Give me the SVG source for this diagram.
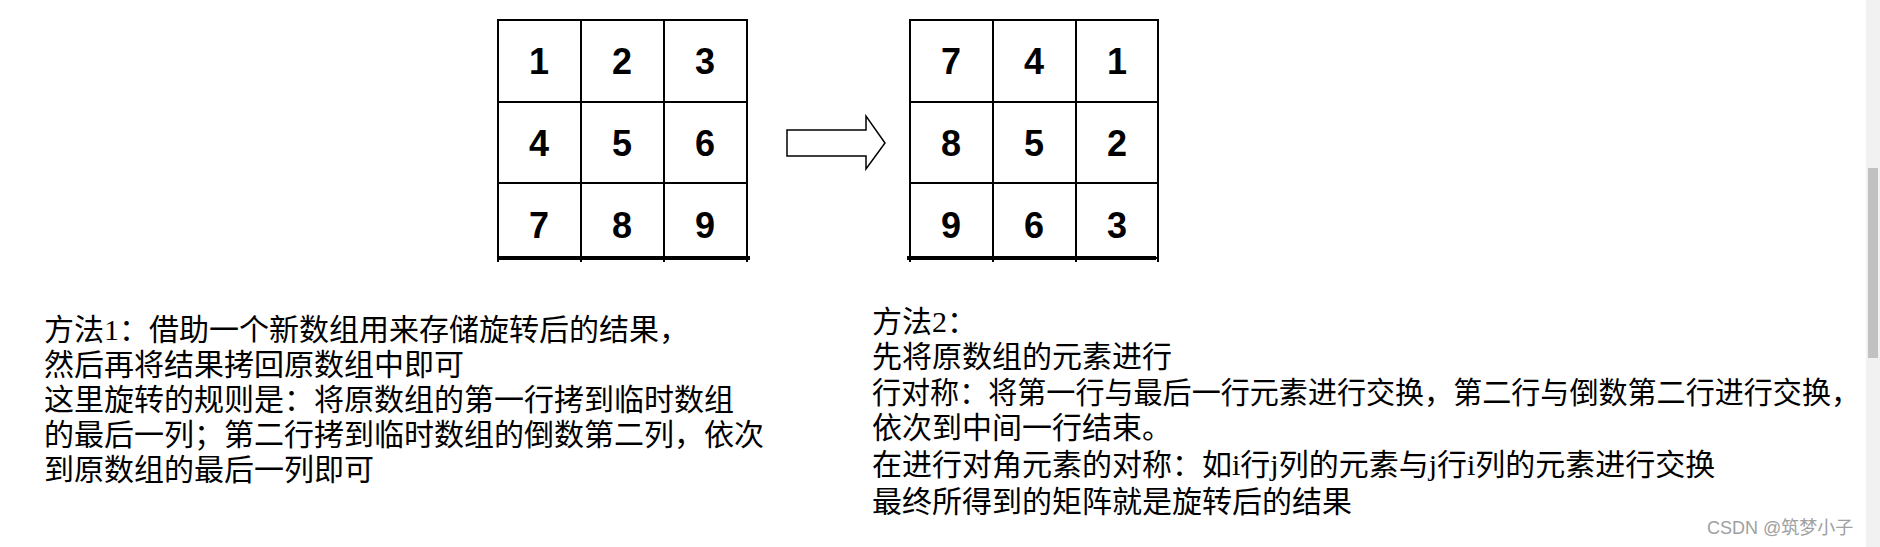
<svg xmlns="http://www.w3.org/2000/svg" width="1880" height="547" viewBox="0 0 1880 547">
<style>
.g{fill:none;stroke:#000;stroke-width:2}
.b{stroke:#000;stroke-width:4}
.n{font-family:"Liberation Sans",Arial,sans-serif;font-weight:bold;font-size:36px;text-anchor:middle}
.t{font-family:"Liberation Serif","Noto Sans CJK SC",serif;font-size:30px}
</style>
<rect width="1880" height="547" fill="#fff"/>
<rect x="1866" y="0" width="14" height="547" fill="#f1f1f1"/>
<rect x="1868" y="168" width="10" height="190" fill="#c1c1c1"/>
<g id="grid1">
<rect class="g" x="498" y="20" width="249" height="238"/>
<path class="g" d="M581 20V262M664 20V262M498 102H747M498 183H747M498 258V262M747 258V262"/>
<path class="b" d="M497 258H750"/>
<text class="n" x="539" y="74">1</text><text class="n" x="622" y="74">2</text><text class="n" x="705" y="74">3</text>
<text class="n" x="539" y="156">4</text><text class="n" x="622" y="156">5</text><text class="n" x="705" y="156">6</text>
<text class="n" x="539" y="238">7</text><text class="n" x="622" y="238">8</text><text class="n" x="705" y="238">9</text>
</g>
<g id="arrow">
<path fill="#fff" stroke="#000" stroke-width="1.5" d="M787 130H866V116L885 143L866 169V156H787Z"/>
</g>
<g id="grid2">
<rect class="g" x="910" y="20" width="248" height="238"/>
<path class="g" d="M993 20V262M1076 20V262M910 102H1158M910 183H1158M910 258V262M1158 258V262"/>
<path class="b" d="M907 258H1156"/>
<text class="n" x="951" y="74">7</text><text class="n" x="1034" y="74">4</text><text class="n" x="1117" y="74">1</text>
<text class="n" x="951" y="156">8</text><text class="n" x="1034" y="156">5</text><text class="n" x="1117" y="156">2</text>
<text class="n" x="951" y="238">9</text><text class="n" x="1034" y="238">6</text><text class="n" x="1117" y="238">3</text>
</g>
<g id="text1">
<text class="t" x="44" y="340">方法1：借助一个新数组用来存储旋转后的结果，</text>
<text class="t" x="44" y="375">然后再将结果拷回原数组中即可</text>
<text class="t" x="44" y="410">这里旋转的规则是：将原数组的第一行拷到临时数组</text>
<text class="t" x="44" y="445">的最后一列；第二行拷到临时数组的倒数第二列，依次</text>
<text class="t" x="44" y="480">到原数组的最后一列即可</text>
</g>
<g id="text2">
<text class="t" x="872" y="332">方法2：</text>
<text class="t" x="872" y="367">先将原数组的元素进行</text>
<text class="t" x="872" y="403" textLength="988" lengthAdjust="spacingAndGlyphs">行对称：将第一行与最后一行元素进行交换，第二行与倒数第二行进行交换，</text>
<text class="t" x="872" y="438">依次到中间一行结束。</text>
<text class="t" x="872" y="475">在进行对角元素的对称：如i行j列的元素与j行i列的元素进行交换</text>
<text class="t" x="872" y="512">最终所得到的矩阵就是旋转后的结果</text>
</g>
<text x="1707" y="534" font-family="'Liberation Sans','Noto Sans CJK SC',sans-serif" font-size="18" fill="#a0a0a0">CSDN @筑梦小子</text>
</svg>
